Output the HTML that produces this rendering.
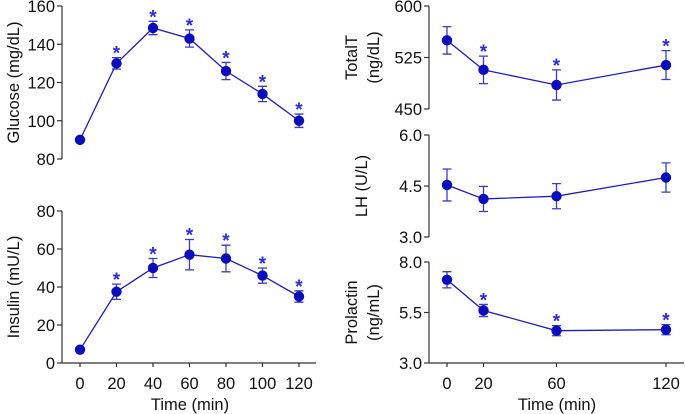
<!DOCTYPE html>
<html><head><meta charset="utf-8"><style>
html,body{margin:0;padding:0;background:#fff}
svg{display:block;font-family:"Liberation Sans",Arial,sans-serif}
</style></head><body>
<svg id="chart" width="685" height="414" viewBox="0 0 685 414" xmlns="http://www.w3.org/2000/svg"></svg>
<script>
const leftTimes=[0,20,40,60,80,100,120];
const rightTimes=[0,20,60,120];
const glucoseVals=[90,130,148.5,143,126,114,100];
const glucoseErr=[0,3,3.5,4.5,4.5,4,3.5];
const glucoseSig=[false,true,true,true,true,true,true];
const insulinVals=[7,37.5,50,57,55,46,35];
const insulinErr=[0,4,5,8,7,4,3];
const insulinSig=[false,true,true,true,true,true,true];
const testoVals=[550,507,485,514];
const testoErr=[20,20,22,21];
const testoSig=[false,true,true,true];
const lhVals=[4.53,4.12,4.2,4.75];
const lhErr=[0.47,0.37,0.37,0.43];
const lhSig=[false,false,false,false];
const prlVals=[7.12,5.6,4.6,4.65];
const prlErr=[0.4,0.3,0.25,0.25];
const prlSig=[false,true,true,true];
const leftTicksGlu=[80,100,120,140,160];
const leftTicksIns=[0,20,40,60,80];
const ticksT=[450,525,600];
const ticksLH=["3.0","4.5","6.0"];
const ticksPrl=["3.0","5.5","8.0"];

const FS=16.5;
const svg=document.getElementById('chart');
const NS='http://www.w3.org/2000/svg';
function mk(tag,attrs,parent){const e=document.createElementNS(NS,tag);for(const k in attrs)e.setAttribute(k,attrs[k]);(parent||svg).appendChild(e);return e;}
function xScale(x0){return t=>x0+t*1.825;}

function panel(name,axisX,yTop,yBot,vmin,vmax,ticks,times,vals,errs,sig,xBase,labelLines,labelX,xAxisEnd){
  const g=mk('g',{});
  
  
  const ys=v=>yBot-(v-vmin)/(vmax-vmin)*(yBot-yTop);
  const xs=xScale(xBase);
  const ax=mk('line',{x1:axisX,y1:yTop,x2:axisX,y2:yBot,stroke:'#333','stroke-width':1.2},g);
  
  
  ticks.forEach(t=>{
    const y=ys(parseFloat(t));
    mk('line',{x1:axisX-5,y1:y,x2:axisX,y2:y,stroke:'#333','stroke-width':1.2},g);
    const tx=mk('text',{x:axisX-7,y:y+6,'font-size':FS,'text-anchor':'end',fill:'#111'},g);
    tx.textContent=t;
    
    
  });
  const cy=(yTop+yBot)/2;
  labelLines.forEach((ln,i)=>{
    const lx=labelX[i];
    const tx=mk('text',{x:lx,y:cy,'font-size':FS,'text-anchor':'middle',fill:'#111',transform:`rotate(-90 ${lx} ${cy})`,'dominant-baseline':'central'},g);
    tx.textContent=ln;
    
    
  });
  if(xAxisEnd){
    const xa=mk('line',{x1:axisX,y1:yBot,x2:xAxisEnd,y2:yBot,stroke:'#333','stroke-width':1.2},g);
    
    
  }
  const pts=times.map((t,i)=>xs(t)+','+ys(vals[i])).join(' ');
  const pl=mk('polyline',{points:pts,fill:'none',stroke:'#1c1cd0','stroke-width':1.3},g);
  
  
  times.forEach((t,i)=>{
    const x=xs(t),y=ys(vals[i]);
    if(errs[i]>0){
      const y1=ys(vals[i]+errs[i]),y2=ys(vals[i]-errs[i]);
      const eb=mk('path',{d:`M${x},${y1}V${y2}M${x-4.5},${y1}H${x+4.5}M${x-4.5},${y2}H${x+4.5}`,stroke:'#3a3ad8','stroke-width':1.3,fill:'none'},g);
      
      
    }
    const c=mk('circle',{cx:x,cy:y,r:5.2,fill:'#0b0bbf'},g);
    
    
    if(sig[i]){
      const top=ys(vals[i]+errs[i]);
      const s=mk('text',{x:x,y:top+2,'font-size':19,'text-anchor':'middle',fill:'#2a2af0','font-weight':'bold'},g);
      s.textContent='*';
      
      
    }
  });
  return xs;
}
function xTicks(name,times,xs,y,axisTitleX){
  times.forEach(t=>{
    const x=xs(t);
    mk('line',{x1:x,y1:y,x2:x,y2:y+4,stroke:'#333','stroke-width':1.2});
    const tx=mk('text',{x:x,y:y+26,'font-size':FS,'text-anchor':'middle',fill:'#111'});
    tx.textContent=t;
    
    
  });
  const tt=mk('text',{x:axisTitleX,y:410,'font-size':FS,'text-anchor':'middle',fill:'#111'});
  tt.textContent='Time (min)';
  
  
}
panel('glucose',62,6,159,80,160,leftTicksGlu,leftTimes,glucoseVals,glucoseErr,glucoseSig,80,['Glucose (mg/dL)'],[14],null);
const xsL=panel('insulin',62,211,363,0,80,leftTicksIns,leftTimes,insulinVals,insulinErr,insulinSig,80,['Insulin (mU/L)'],[14],316);
xTicks('left',leftTimes,xsL,363,190);
panel('total-testosterone',429,6,109,450,600,ticksT,rightTimes,testoVals,testoErr,testoSig,447,['TotalT','(ng/dL)'],[352,374],null);
panel('lh',429,135,237,3,6,ticksLH,rightTimes,lhVals,lhErr,lhSig,447,['LH (U/L)'],[362],null);
const xsR=panel('prolactin',429,262,363,3,8,ticksPrl,rightTimes,prlVals,prlErr,prlSig,447,['Prolactin','(ng/mL)'],[352,374],684);
xTicks('right',rightTimes,xsR,363,557);
</script>
</body></html>
